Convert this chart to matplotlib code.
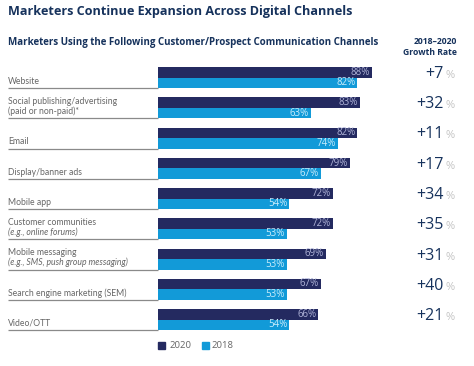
import matplotlib
matplotlib.use("Agg")
import matplotlib.pyplot as plt
import matplotlib.transforms as mtransforms
from matplotlib.patches import Rectangle

categories = [
    "Website",
    "Social publishing/advertising\n(paid or non-paid)*",
    "Email",
    "Display/banner ads",
    "Mobile app",
    "Customer communities\n(e.g., online forums)",
    "Mobile messaging\n(e.g., SMS, push group messaging)",
    "Search engine marketing (SEM)",
    "Video/OTT",
]
italic_second_line = [False, False, False, False, False, True, True, False, False]
values_2020 = [88, 83, 82, 79, 72, 72, 69, 67, 66]
values_2018 = [82, 63, 74, 67, 54, 53, 53, 53, 54]
growth = [7, 32, 11, 17, 34, 35, 31, 40, 21]
series_labels = ["2020", "2018"]

W, H = 474, 366
DPI = 100
plt.rcParams['font.family'] = ['Open Sans', 'DejaVu Sans']

NAVY = "#242a60"
BLUE = "#129ad8"
TITLE = "#16325c"
GRAY = "#666666"
LFONT = ['Lato', 'DejaVu Sans']

fig = plt.figure(figsize=(W / DPI, H / DPI), dpi=DPI)
fig.patch.set_facecolor("white")

# axes: x 0 at px 158, 2.43 px per %
x0_px = 158
scale = 2.43
ax_w_px = 100 * scale
y_top_px = 77.5 - 0.5 * 30.25
y_bot_px = 77.5 + 8.5 * 30.25
ax = fig.add_axes([x0_px / W, 1 - y_bot_px / H, ax_w_px / W, (y_bot_px - y_top_px) / H])
ax.set_xlim(0, 100)
ax.set_ylim(8.5, -0.5)
ax.axis("off")

h = 10.5 / 30.25
n = len(categories)
ys = list(range(n))
ax.barh([y - h / 2 for y in ys], values_2020, height=h, color=NAVY, label=series_labels[0])
ax.barh([y + h / 2 for y in ys], values_2018, height=h, color=BLUE, label=series_labels[1])

px = 1 / 30.25  # one pixel in data y units
lbl_off = 2.0 / scale
for y, v in zip(ys, values_2020):
    ax.text(v - lbl_off, y - h / 2, f"{v}%", ha="right", va="center",
            fontsize=7, color="#aeb2d6")
for y, v in zip(ys, values_2018):
    ax.text(v - lbl_off, y + h / 2, f"{v}%", ha="right", va="center",
            fontsize=7, color="#c9ecfb")

trans = mtransforms.blended_transform_factory(fig.transFigure, ax.transData)

LFS = 6.2
for y, cat, it in zip(ys, categories, italic_second_line):
    lines = cat.split("\n")
    base = y + 6.5 * px
    if len(lines) == 1:
        ax.text(8 / W, base, lines[0], transform=trans, ha="left", va="baseline",
                fontsize=LFS, color=GRAY, clip_on=False, family=LFONT)
    else:
        ax.text(8 / W, base - 10 * px - 0.5 * px, lines[0], transform=trans, ha="left",
                va="baseline", fontsize=LFS, color=GRAY, clip_on=False, family=LFONT)
        ax.text(8 / W, base - 0.5 * px, lines[1], transform=trans, ha="left", va="baseline",
                fontsize=LFS, color=GRAY, clip_on=False, family=LFONT,
                style="italic" if it else "normal")
    # separator line
    ax.plot([8 / W, x0_px / W], [y + h, y + h], transform=trans, color="#8a8a8a",
            lw=0.9, clip_on=False, solid_capstyle="butt")

# growth rates
for y, g in zip(ys, growth):
    yb = y + 0.5 * px
    ax.text(444 / W, yb, f"+{g}", transform=trans, ha="right", va="baseline",
            fontsize=11.5, color=TITLE, clip_on=False)
    ax.text(445 / W, yb, "%", transform=trans, ha="left", va="baseline",
            fontsize=8, color="#c4c4c4", clip_on=False)

# titles
fig.text(8 / W, 1 - 11.5 / H, "Marketers Continue Expansion Across Digital Channels",
         ha="left", va="center", fontsize=9.1, fontweight="bold", color=TITLE)
fig.text(8 / W, 1 - 42.3 / H, "Marketers Using the Following Customer/Prospect Communication Channels",
         ha="left", va="center", fontsize=7.0, fontweight="bold", color=TITLE)
fig.text(457 / W, 1 - 41 / H, "2018\u20132020", ha="right", va="center",
         fontsize=6.2, fontweight="bold", color=TITLE)
fig.text(457 / W, 1 - 52.5 / H, "Growth Rate", ha="right", va="center",
         fontsize=6.2, fontweight="bold", color=TITLE)

# legend
leg_y = 345.5
for sx, tx, col, lab in [(158, 169, NAVY, series_labels[0]), (201.5, 212, BLUE, series_labels[1])]:
    fig.patches.append(Rectangle((sx / W, 1 - (leg_y + 3.5) / H), 7 / W, 7 / H,
                                 transform=fig.transFigure, color=col, figure=fig))
    fig.text(tx / W, 1 - leg_y / H, lab, ha="left", va="center", fontsize=6.8, color=GRAY)

fig.savefig("out.png", dpi=DPI, facecolor="white")
